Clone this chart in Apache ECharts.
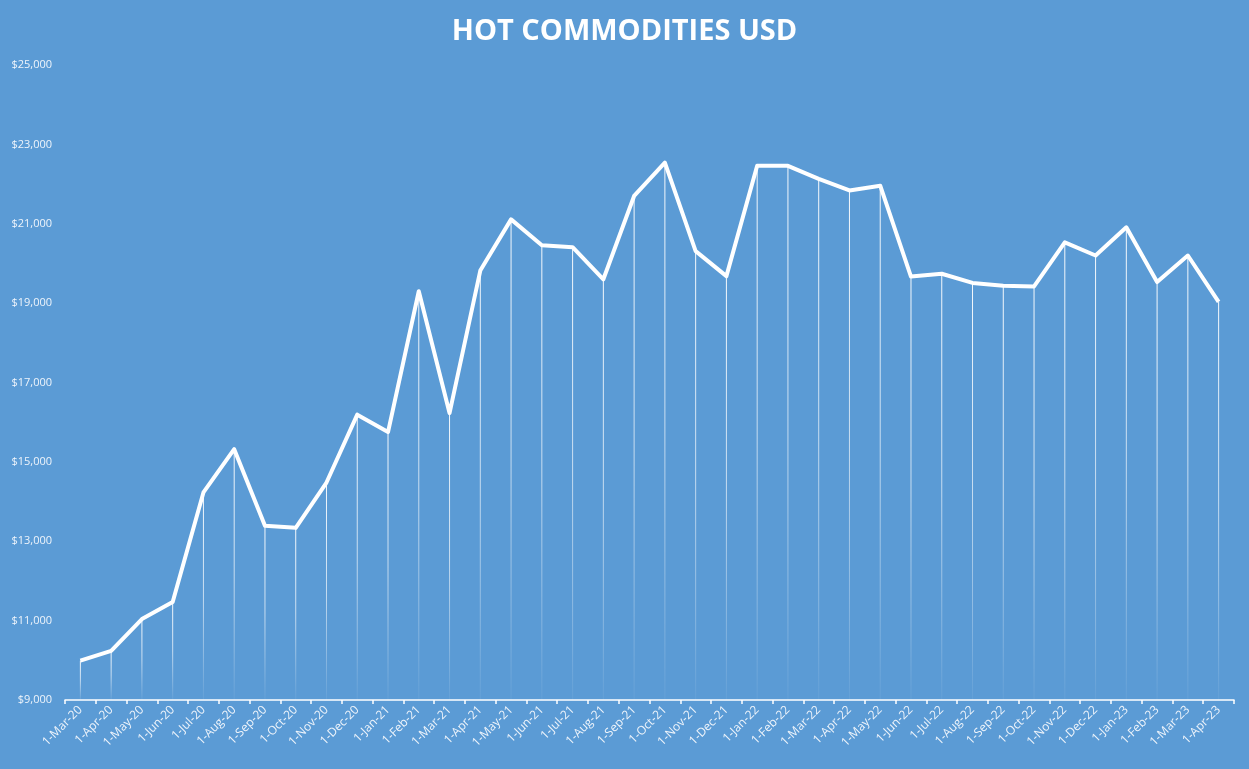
<!DOCTYPE html>
<html>
<head>
<meta charset="utf-8">
<title>Hot Commodities USD</title>
<script src="https://cdn.jsdelivr.net/npm/echarts@6/dist/echarts.min.js"></script>
<style>
	html, body {margin: 0; padding: 0; background: #5B9BD5;}
	#main {width: 1249px; height: 769px;}
</style>
</head>
<body>
<div id="main"></div>
<script>
// months shown on the x axis
var months = ['1-Mar-20', '1-Apr-20', '1-May-20', '1-Jun-20', '1-Jul-20', '1-Aug-20', '1-Sep-20', '1-Oct-20',
	'1-Nov-20', '1-Dec-20', '1-Jan-21', '1-Feb-21', '1-Mar-21', '1-Apr-21', '1-May-21', '1-Jun-21',
	'1-Jul-21', '1-Aug-21', '1-Sep-21', '1-Oct-21', '1-Nov-21', '1-Dec-21', '1-Jan-22', '1-Feb-22',
	'1-Mar-22', '1-Apr-22', '1-May-22', '1-Jun-22', '1-Jul-22', '1-Aug-22', '1-Sep-22', '1-Oct-22',
	'1-Nov-22', '1-Dec-22', '1-Jan-23', '1-Feb-23', '1-Mar-23', '1-Apr-23'];
// price in USD
var prices = [9990, 10240, 11040, 11470, 14230, 15320, 13390, 13340,
	14480, 16190, 15750, 19300, 16230, 19820, 21110, 20460,
	20410, 19600, 21700, 22540, 20310, 19680, 22460, 22460,
	22130, 21840, 21960, 19670, 19740, 19510, 19440, 19420,
	20530, 20200, 20910, 19530, 20200, 19030];
var yMin = 9000;
var yMax = 25000;
var yStep = 2000;

var myChart = echarts.init(document.getElementById('main'));
var option = {
	backgroundColor: '#5B9BD5',
	animation: false,
	title: {
		text: 'HOT COMMODITIES USD',
		left: 'center',
		top: 12,
		textStyle: {
			color: '#ffffff',
			fontFamily: 'Open Sans',
			fontWeight: 'bold',
			fontSize: 29
		}
	},
	grid: {
		left: 65,
		right: 15,
		top: 65,
		bottom: 69
	},
	xAxis: {
		type: 'category',
		data: months,
		boundaryGap: true,
		axisLine: {lineStyle: {color: '#ffffff', width: 1.5}},
		axisTick: {show: true, length: 4, lineStyle: {color: '#ffffff', width: 1.5}},
		axisLabel: {
			rotate: 45,
			interval: 0,
			margin: 8,
			color: '#eef4fb',
			fontFamily: 'Open Sans',
			fontSize: 12
		},
		splitLine: {show: false}
	},
	yAxis: {
		type: 'value',
		min: yMin,
		max: yMax,
		interval: yStep,
		axisLine: {show: false},
		axisTick: {show: false},
		splitLine: {show: false},
		axisLabel: {
			margin: 13,
			color: '#eef4fb',
			fontFamily: 'Open Sans',
			fontSize: 11,
			formatter: function (v) {
				return '$' + v.toLocaleString('en-US');
			}
		}
	},
	series: [
		{
			// thin drop lines from each point down to the axis
			type: 'bar',
			data: prices,
			barWidth: 1,
			silent: true,
			itemStyle: {
				color: new echarts.graphic.LinearGradient(0, 0, 0, 1, [
					{offset: 0, color: 'rgba(255,255,255,0.95)'},
					{offset: 0.5, color: 'rgba(255,255,255,0.65)'},
					{offset: 1, color: 'rgba(255,255,255,0.05)'}
				])
			},
			z: 1
		},
		{
			type: 'line',
			data: prices,
			symbol: 'none',
			lineStyle: {color: '#ffffff', width: 4, join: 'round'},
			z: 3
		}
	]
};
myChart.setOption(option, true);
</script>
</body>
</html>
